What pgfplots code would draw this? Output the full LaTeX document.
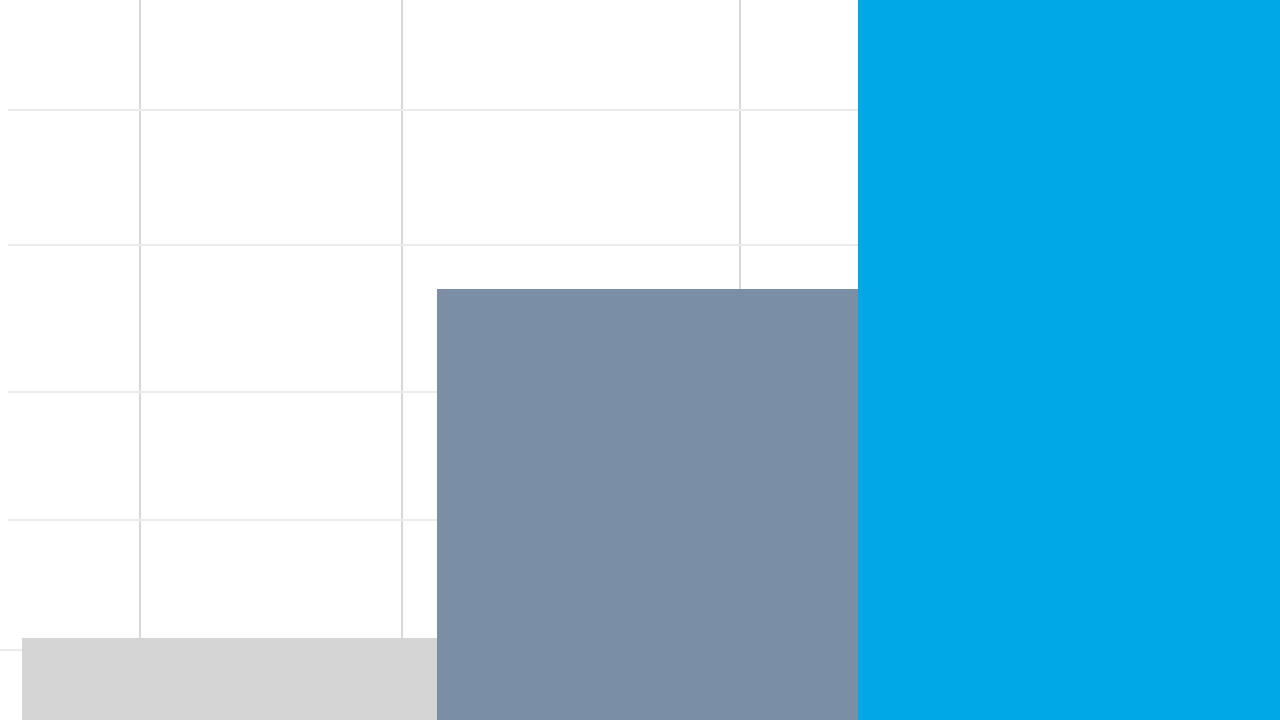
\documentclass[border=0pt]{standalone}
\usepackage{pgfplots}
\pgfplotsset{compat=1.18}
\definecolor{barGray}{HTML}{D5D5D5}
\definecolor{barSlate}{HTML}{7A8FA6}
\definecolor{barBlue}{HTML}{00A8E8}
\definecolor{gridV}{HTML}{D8D8D8}
\definecolor{gridH}{HTML}{EBEBEB}
\begin{document}
\begin{tikzpicture}
\begin{axis}[
  scale only axis,
  width=640bp, height=360bp,
  xmin=0, xmax=1280, ymin=0, ymax=720,
  axis line style={draw=none},
  major tick length=0pt,
  xtick={140,402,740}, ytick=\empty,
  xticklabels={}, 
  xmajorgrids,
  major grid style={gridV, line width=0.7pt},
  clip=true,
]
% horizontal grid lines
\addplot[gridH, line width=0.6pt] coordinates {(8,610) (1280,610)};
\addplot[gridH, line width=0.6pt] coordinates {(8,475) (1280,475)};
\addplot[gridH, line width=0.6pt] coordinates {(8,328) (1280,328)};
\addplot[gridH, line width=0.6pt] coordinates {(8,200) (1280,200)};
\addplot[gridH, line width=0.6pt] coordinates {(0,70) (1280,70)};
% bars
\addplot[ybar interval, fill=barGray, draw=none] coordinates {(22,82) (437,82)};
\addplot[ybar interval, fill=barSlate, draw=none] coordinates {(437,431) (858,431)};
\addplot[ybar interval, fill=barBlue, draw=none] coordinates {(858,800) (1281,800)};
\end{axis}
\pgfresetboundingbox
\path (current axis.south west) rectangle (current axis.north east);
\end{tikzpicture}
\end{document}
